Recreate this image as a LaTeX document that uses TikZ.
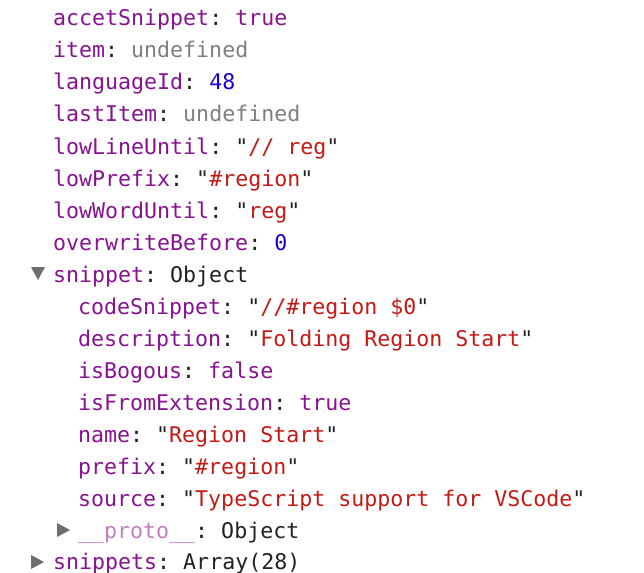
\documentclass[tikz,border=0pt]{standalone}
\usepackage{fontspec}
\setmonofont{DejaVu Sans Mono}
\definecolor{kc}{HTML}{881391}
\definecolor{sc}{HTML}{C41A16}
\definecolor{nc}{HTML}{1C00CF}
\definecolor{uc}{HTML}{808080}
\definecolor{pc}{HTML}{C080C0}
\definecolor{oc}{HTML}{222222}
\definecolor{tc}{HTML}{6E6E6E}
\newcommand{\K}[1]{\textcolor{kc}{#1}\textcolor{oc}{:}\ }
\newcommand{\Sv}[1]{\textcolor{oc}{"}\textcolor{sc}{#1}\textcolor{oc}{"}}
\begin{document}
\begin{tikzpicture}[x=1pt,y=-1pt,
  ln/.style={anchor=base west,inner sep=0pt,font=\fontsize{21.6}{24}\ttfamily},
  tri/.style={fill=tc,draw=none}]
\useasboundingbox (0,0) rectangle (644,572);
\fill[white] (0,0) rectangle (644,572);
\node[ln] (l1) at (53,26) {\K{accetSnippet}\textcolor{kc}{true}};
\node[ln] (l2) at (53,58) {\K{item}\textcolor{uc}{undefined}};
\node[ln] (l3) at (53,90) {\K{languageId}\textcolor{nc}{48}};
\node[ln] (l4) at (53,122) {\K{lastItem}\textcolor{uc}{undefined}};
\node[ln] (l5) at (53,154) {\K{lowLineUntil}\Sv{// reg}};
\node[ln] (l6) at (53,186) {\K{lowPrefix}\Sv{\#region}};
\node[ln] (l7) at (53,218) {\K{lowWordUntil}\Sv{reg}};
\node[ln] (l8) at (53,250) {\K{overwriteBefore}\textcolor{nc}{0}};
\node[ln] (l9) at (53,282) {\K{snippet}\textcolor{oc}{Object}};
\node[ln] (l10) at (78,314) {\K{codeSnippet}\Sv{//\#region \$0}};
\node[ln] (l11) at (78,346) {\K{description}\Sv{Folding Region Start}};
\node[ln] (l12) at (78,378) {\K{isBogous}\textcolor{kc}{false}};
\node[ln] (l13) at (78,410) {\K{isFromExtension}\textcolor{kc}{true}};
\node[ln] (l14) at (78,442) {\K{name}\Sv{Region Start}};
\node[ln] (l15) at (78,474) {\K{prefix}\Sv{\#region}};
\node[ln] (l16) at (78,506) {\K{source}\Sv{TypeScript support for VSCode}};
\node[ln] (l17) at (78,538) {\textcolor{pc}{\_\_proto\_\_}\textcolor{oc}{:}\ \textcolor{oc}{Object}};
\node[ln] (l18) at (53,569) {\K{snippets}\textcolor{oc}{Array(28)}};
\fill[tri] (31,267) -- (45,267) -- (38,280) -- cycle;
\fill[tri] (57,523) -- (70,530) -- (57,537) -- cycle;
\fill[tri] (31,555) -- (44,562) -- (31,569) -- cycle;
\end{tikzpicture}
\end{document}
